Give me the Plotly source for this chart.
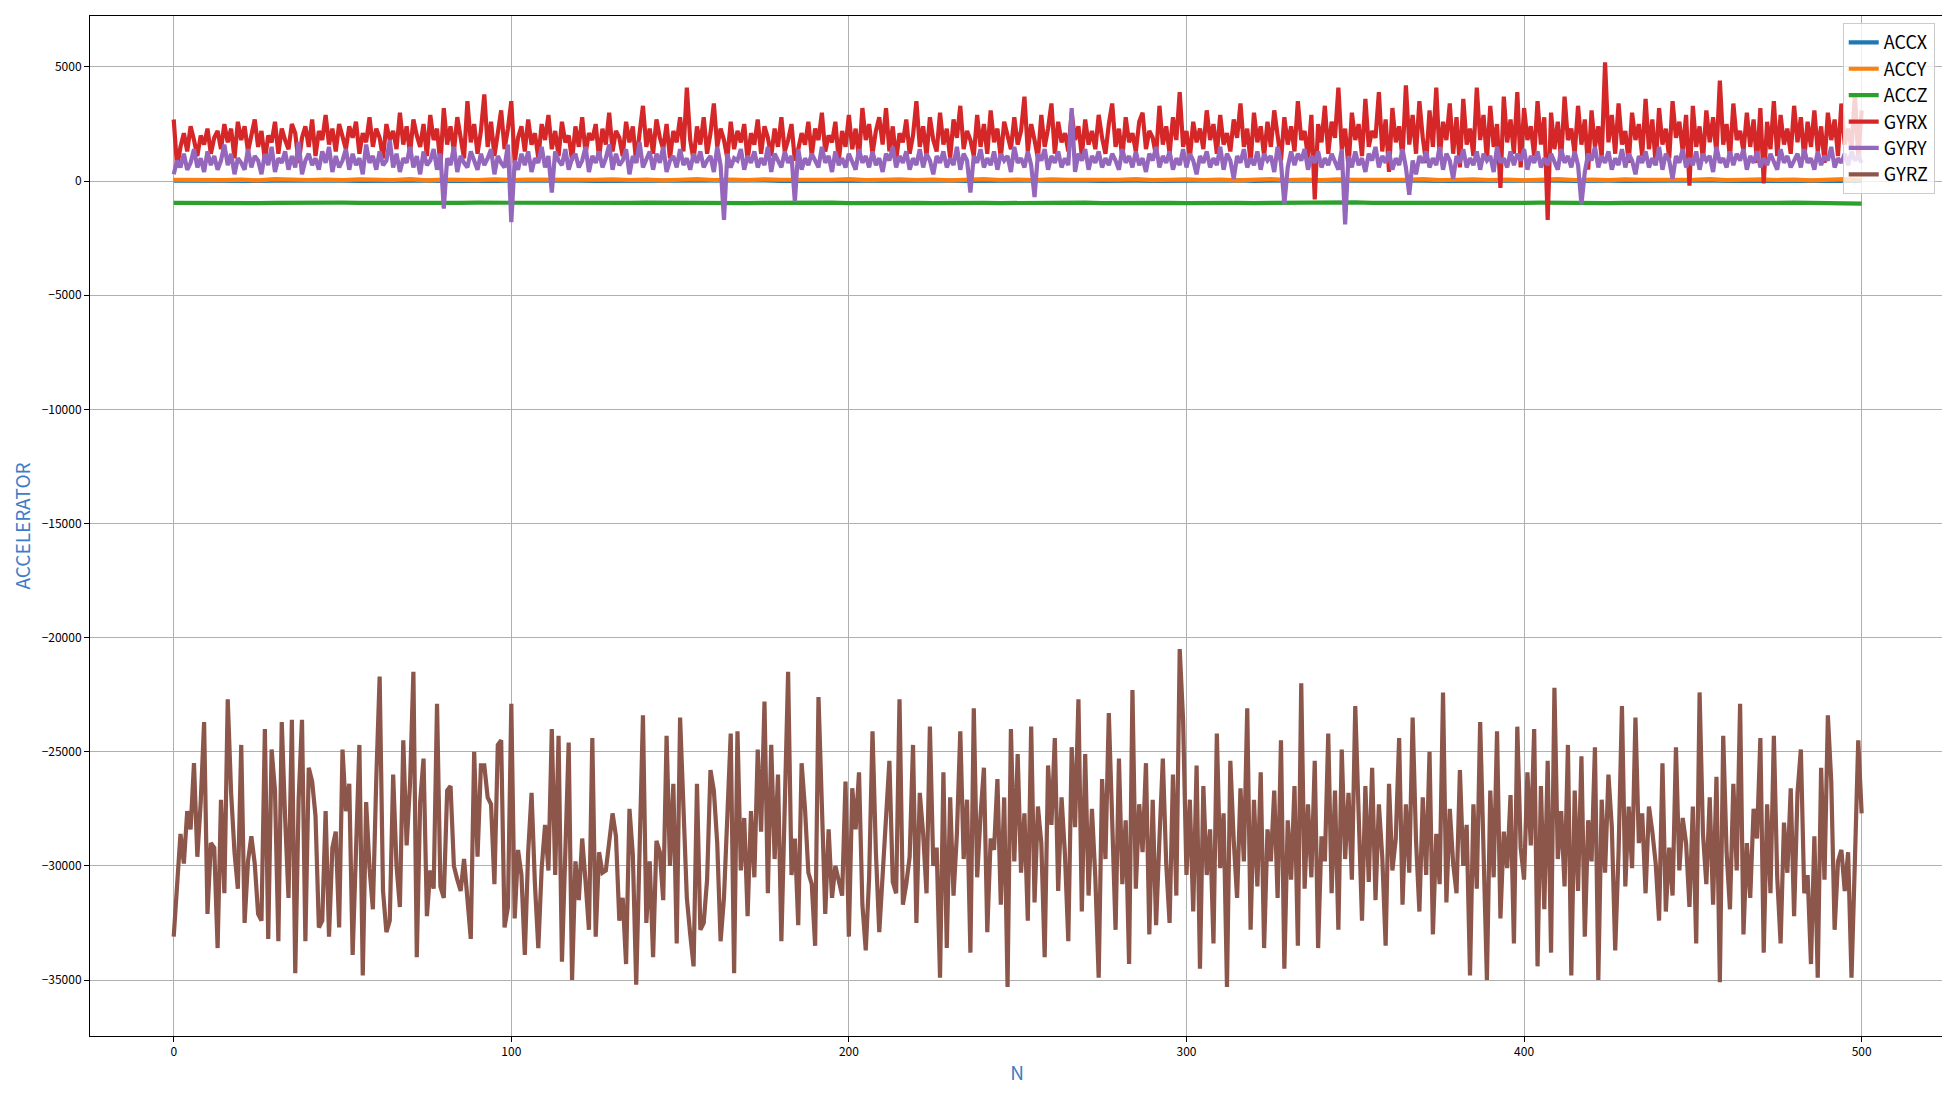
import plotly.graph_objects as go

# nearly flat accelerometer channels, sampled every 5 points
acc_n = list(range(0, 501, 5))
accx = [20, 10, 30, 15, 25, 10, 20, 30, 15, 20, 25, 10, 20, 15, 30, 20, 10, 25, 20, 15,
        20, 30, 10, 20, 25, 15, 20, 10, 30, 20, 15, 25, 20, 10, 20, 30, 15, 20, 25, 10,
        20, 15, 30, 20, 10, 25, 20, 15, 20, 30, 10, 20, 25, 15, 20, 10, 30, 20, 15, 25,
        20, 10, 20, 30, 15, 20, 25, 10, 20, 15, 30, 20, 10, 25, 20, 15, 20, 30, 10, 20,
        25, 15, 20, 10, 30, 20, 15, 25, 20, 10, 20, 30, 15, 20, 25, 10, 20, 15, 30, 20, 15]
accy = [60, 50, 80, 40, 70, 30, 90, 60, 50, 70, 40, 80, 60, 50, 90, 30, 70, 60, 40, 80,
        50, 70, 60, 90, 40, 60, 80, 50, 70, 30, 60, 90, 50, 70, 40, 80, 60, 50, 70, 60,
        90, 40, 60, 80, 50, 70, 30, 60, 90, 50, 70, 40, 80, 60, 50, 70, 60, 90, 40, 60,
        80, 50, 70, 30, 60, 90, 50, 70, 40, 80, 60, 50, 70, 60, 90, 40, 60, 80, 50, 70,
        30, 60, 90, 50, 70, 40, 80, 60, 50, 70, 60, 90, 40, 60, 80, 50, 70, 30, 60, 90, 60]
accz = [-950, -960, -940, -955, -945, -965, -950, -940, -960, -950, -945, -955, -960, -950, -940, -955, -965, -950, -945, -950,
        -960, -940, -955, -950, -945, -960, -950, -955, -940, -950, -965, -950, -945, -955, -960, -950, -940, -955, -950, -945,
        -960, -950, -955, -940, -950, -965, -950, -945, -955, -960, -950, -940, -955, -950, -945, -960, -950, -955, -940, -950,
        -965, -950, -945, -955, -960, -950, -940, -955, -950, -945, -930, -950, -955, -940, -950, -965, -950, -945, -955, -960,
        -950, -940, -955, -950, -945, -960, -950, -955, -940, -950, -965, -950, -945, -955, -960, -950, -940, -955, -950, -945, -990]

gyrx = [2700, 600, 1500, 2100, 1300, 2400, 1800, 1100, 2000, 1600, 2300, 1200, 1900, 2200, 1400, 2500, 1700, 2300, 1000, 2600,
        1800, 2400, 1300, 2100, 2700, 1500, 2200, 900, 2000, 1700, 2600, 1200, 2300, 1800, 1400, 2500, 2100, 800, 1900, 2400,
        1500, 2700, 1100, 2200, 1800, 2900, 1600, 2300, 1300, 2500, 2000, 1400, 2400, 1900, 2600, 1200, 2100, 1700, 2800, 1500,
        2300, 1900, 1000, 2500, 1800, 2200, 1400, 3000, 1600, 2400, 1200, 2700, 2000, 1500, 2500, 1100, 2900, 1800, 2300, 700,
        3200, 1600, 2400, 1300, 2800, 1900, 1000, 3500, 1700, 2500, 1200, 2200, 3800, 1500, 2600, 1100, 2000, 3100, 1400, 2300,
        3500, 800, 1900, 2400, 1300, 2700, 1600, 2100, 1000, 2500, 1800, 2900, 1400, 2200, 1100, 2600, 1700, 2000, 900, 2400,
        1500, 2800, 1200, 2100, 1800, 2500, 1000, 2300, 1600, 3000, 1300, 2200, 1900, 1100, 2600, 1700, 2400, 800, 2100, 3300,
        1500, 2300, 1200, 2700, 1900, 1400, 2500, 1000, 2200, 1700, 2800, 1300, 4100, 1800, 900, 2400, 1600, 2800, 1200, 2100,
        3400, 1500, 2300, 1800, 1000, 2600, 1400, 2200, 1700, 2500, 900, 2100, 1600, 2700, 1200, 2400, 1900, 1100, 2300, 1500,
        2800, 1300, 1800, 2500, 900, 1400, 2100, 1600, 2600, 1100, 2300, 1800, 3000, 1300, 2000, 1700, 2600, 900, 2200, 1500,
        2900, 1400, 2300, 1000, 3200, 1800, 2500, 1200, 2200, 2800, 1600, 3200, 1300, 2400, 900, 2100, 1700, 2700, 1200, 2000,
        3500, 1500, 2400, 1100, 2800, 1800, 1300, 3000, 1600, 2300, 1000, 2700, 1900, 3300, 1400, 2200, 1800, 1100, 2900, 1500,
        2500, 1200, 3100, 1700, 2300, 1000, 2600, 1900, 1400, 2800, 1600, 2200, 3700, 1300, 2500, 1800, 1000, 2900, 1500, 2300,
        3400, 1200, 2600, 1700, 2100, 1300, 3000, 1800, 2400, 1100, 2700, 1600, 2200, 1400, 2900, 1900, 1200, 2500, 3400, 1500,
        2300, 1000, 2800, 1700, 2100, 1300, 2600, 3000, 1400, 2200, 1900, 1100, 3300, 1600, 2400, 1200, 2800, 1800, 3900, 1500,
        2200, 1000, 2600, 1700, 2300, 1400, 3100, 1800, 2500, 1200, 2900, 1600, 2100, 1300, 2700, 1900, 3400, 1500, 2300, 800,
        3000, 1700, 2400, 1100, 2600, 1500, 3100, 2000, 900, 2800, 1600, 2400, 1300, 3500, 1800, 2200, 1000, 2900, -800, 2500,
        1700, 3300, 1200, 2600, 1900, 4100, 1400, 2300, 600, 3000, 1800, 2500, 1100, 3600, 1500, 2200, 1900, 3900, 1300, 2700,
        400, 3200, 1700, 2400, 1000, 4200, 1600, 2900, 1200, 3500, 1900, 800, 3100, 1500, 4100, 1000, 2600, 1800, 3400, 1200,
        2800, 600, 3600, 1600, 2300, 1100, 4100, 1800, 2900, 900, 3300, 1500, 2500, -300, 3700, 1700, 2700, 1200, 3900, 600,
        3200, 1800, 2400, 1100, 3500, 1600, 2800, -1700, 3000, 1400, 2600, 900, 3700, 1800, 2300, 1200, 3300, 1600, 2700, 500,
        3100, 1500, 2400, 1000, 5200, 1700, 2900, 1200, 3400, 1600, 2200, 800, 3000, 1800, 2500, 1100, 3600, 1400, 2700, 700,
        3200, 1600, 2300, 1000, 3500, 1900, 2600, 1300, 2900, -200, 3300, 1500, 2400, 900, 3100, 1700, 2800, 1200, 4400, 1600,
        2500, 1000, 3400, 1800, 2200, 1300, 3000, 1500, 2700, 800, 3200, -100, 2600, 1400, 3500, 1100, 2900, 1600, 2300, 1200,
        3300, 1700, 2800, 1000, 2600, 1500, 3100, 1300, 2400, 800, 3000, 1800, 2700, 1100, 3400, 1600, 2300, 1400, 3800, 1000,
        3100]

gyry = [300, 900, 600, 1200, 500, 800, 1400, 600, 1000, 400, 1300, 700, 1100, 500, 900, 1600, 700, 1200, 300, 1000,
        800, 500, 1400, 600, 1100, 900, 300, 1200, 700, 1500, 400, 1000, 800, 1300, 500, 1100, 600, 1700, 300, 900,
        1200, 700, 1000, 500, 1300, 800, 1500, 400, 1100, 600, 900, 1400, 500, 1200, 700, 1000, 300, 1600, 800, 1100,
        500, 1300, 700, 900, 1800, 600, 1200, 400, 1000, 800, 1500, 600, 1100, 300, 1300, 700, 900, 1400, 500, 1200,
        -1200, 1000, 700, 1500, 400, 1100, 800, 600, 1300, 900, 500, 1200, 700, 1000, 1400, 300, 1100, 800, 600, 1600,
        -1800, 900, 500, 1200, 700, 1300, 400, 1000, 800, 1500, 600, 1100, -500, 1300, 900, 700, 1400, 500, 1000, 1200,
        600, 900, 1500, 400, 1100, 800, 1300, 600, 1000, 1600, 500, 1200, 700, 900, 1400, 300, 1100, 800, 1700, 600,
        1000, 1300, 500, 1200, 800, 1500, 400, 900, 1100, 600, 1400, 700, 1000, 500, 1200, 800, 1300, 600, 900, 1100,
        400, 1500, 700, -1700, 1200, 600, 1000, 900, 1400, 500, 1100, 800, 1300, 600, 1000, 700, 1500, 400, 1200, 900,
        600, 1300, 800, 1100, -900, 1400, 500, 1000, 700, 1200, 900, 600, 1500, 800, 1100, 400, 1300, 700, 1000, 600,
        1200, 900, 500, 1400, 800, 1100, 600, 1300, 700, 1000, 400, 1200, 900, 1500, 600, 1100, 800, 1300, 500, 1000,
        700, 1400, 600, 1200, 900, 300, 1100, 800, 1300, 600, 1000, 700, 1500, 500, 1200, 900, -500, 1100, 800, 1400,
        600, 1000, 700, 1300, 500, 1200, 900, 1100, 400, 1500, 800, 1000, 600, 1300, 700, -700, 1200, 900, 1400, 500,
        1100, 800, 1300, 600, 1000, 700, 3200, 400, 1200, 900, 1400, 500, 1100, 800, 1300, 600, 1000, 700, 1200, 900,
        500, 1400, 800, 1100, 600, 1300, 700, 1000, 400, 1200, 900, 1500, 600, 1100, 800, 1300, 500, 1000, 700, 1400,
        600, 1200, 900, 300, 1100, 800, 1300, 600, 1000, 700, 1500, 500, 1200, 900, 100, 1100, 800, 1400, 600, 1000,
        700, 1300, 500, 1200, 900, 1100, 400, 1500, 800, -1000, 600, 1300, 700, 1200, 900, 1400, 500, 1100, 800, 1300,
        600, 1000, 700, 1200, 900, 500, 1400, -1900, 1100, 600, 1300, 700, 1000, 400, 1200, 900, 1500, 600, 1100, 800,
        1300, 500, 1000, 700, 1400, 600, -600, 900, 300, 1100, 800, 1300, 600, 1000, 700, 1500, 500, 1200, 900, 100,
        1100, 800, 1400, 600, 1000, 700, 1300, 500, 1200, 900, 1100, 400, 1500, 800, 1000, 600, 1300, 700, 1200, 900,
        1400, 500, 1100, 800, 1300, 600, 1000, 700, 1200, 900, 500, 1400, 800, 1100, 600, 1300, 700, -1000, 400, 1200,
        900, 1500, 600, 1100, 800, 1300, 500, 1000, 700, 1400, 600, 1200, 900, 300, 1100, 800, 1300, 600, 1000, 700,
        1500, 500, 1200, 900, 100, 1100, 800, 1400, 600, 1000, 700, 1300, 500, 1200, 900, 1100, 400, 1500, 800, 1000,
        600, 1300, 700, 1200, 900, 1400, 500, 1100, 800, 1300, 600, 1000, 700, 1200, 900, 500, 1400, 800, 1100, 600,
        900, 1200, 600, 1400, 800, 1000, 500, 1300, 700, 1100, 900, 1500, 600, 1000, 800, 1200, 700, 1300, 900, 1100,
        800]

gyrz = [-33100, -30500, -28600, -29900, -27600, -28400, -25500, -29600, -27200, -23700, -32100, -29000, -29200, -33600, -27100, -31200, -22700, -26800, -29400, -31000,
        -24700, -32500, -29800, -28700, -29900, -32100, -32400, -24000, -33200, -24900, -26700, -33300, -23700, -27900, -31400, -23600, -34700, -27100, -23600, -33300,
        -25700, -26300, -27800, -32700, -32400, -27600, -33100, -29200, -28500, -32700, -24900, -27600, -26400, -33900, -29800, -24700, -34800, -27200, -30100, -31900,
        -26200, -21700, -31100, -32900, -32400, -26000, -30000, -31800, -24500, -29100, -26400, -21500, -34000, -27200, -25300, -32200, -30200, -31000, -22900, -30900,
        -31400, -26700, -26500, -30000, -30600, -31100, -29700, -31500, -33200, -25000, -29600, -25600, -25600, -27000, -27300, -30800, -24700, -24500, -32700, -31800,
        -22900, -32300, -29300, -30400, -33900, -29400, -26800, -30800, -33600, -30100, -28200, -30200, -24000, -30400, -24300, -34200, -29500, -24600, -35000, -29800,
        -31500, -28800, -30700, -32800, -24400, -33100, -29400, -30300, -30200, -29000, -27700, -28700, -32400, -31400, -34300, -27500, -29500, -35200, -28800, -23400,
        -32500, -29800, -34000, -28900, -29400, -31500, -24300, -30000, -26400, -33400, -23500, -27300, -31400, -33000, -34400, -26400, -32800, -32500, -30600, -25800,
        -26700, -29000, -33300, -31400, -27500, -24200, -34700, -24100, -30200, -27900, -32200, -27600, -30500, -24900, -28500, -22800, -31200, -24700, -29700, -26000,
        -33300, -27300, -21500, -30400, -28800, -32600, -25500, -27500, -30300, -30800, -33500, -22600, -27100, -32100, -28400, -31400, -30000, -30600, -31300, -26300,
        -33100, -26600, -28400, -25900, -31700, -33700, -30500, -24100, -29400, -32900, -30600, -28400, -25400, -30700, -31200, -22700, -31700, -30800, -29600, -24700,
        -32500, -26800, -28600, -31200, -23900, -30000, -29200, -34900, -25900, -33600, -27000, -31300, -28600, -24100, -29700, -27100, -33800, -23100, -30500, -27800,
        -25700, -32900, -28800, -29300, -26200, -31700, -27000, -35300, -24000, -29800, -25100, -30300, -27700, -32400, -23900, -31600, -27400, -29000, -34000, -25600,
        -28200, -24400, -31100, -27000, -29500, -33300, -24800, -28300, -22700, -32000, -25100, -31300, -27500, -30500, -34900, -26200, -29700, -23300, -28100, -32800,
        -25300, -30800, -28000, -34300, -22300, -31000, -27300, -29400, -25500, -33000, -27100, -32600, -28800, -25300, -29900, -32500, -26000, -31300, -20500, -23600,
        -30400, -27100, -32000, -25600, -34500, -26500, -30400, -28400, -33400, -24200, -30100, -27700, -35300, -25400, -28900, -31400, -26600, -29800, -23100, -32800,
        -27100, -30900, -25900, -33600, -28400, -29800, -26700, -31400, -24500, -34500, -28000, -30600, -26500, -33500, -22000, -31000, -27300, -30500, -25400, -33600,
        -28700, -29800, -24200, -31200, -26700, -32800, -24900, -29700, -26800, -30600, -23000, -28000, -32400, -26500, -30700, -25700, -31500, -27300, -29600, -33500,
        -26400, -30200, -28800, -24400, -31700, -27300, -30300, -23500, -28900, -32000, -27000, -30400, -25000, -33000, -28600, -30800, -22400, -31600, -27500, -29900,
        -31200, -25800, -30000, -28200, -34800, -27300, -31000, -23700, -29400, -35000, -26700, -30500, -24100, -32300, -28500, -30100, -26900, -33400, -23900, -29200,
        -30600, -25900, -29100, -24000, -34400, -26500, -31900, -25400, -33800, -22200, -29700, -27600, -30900, -24700, -34800, -26700, -31100, -25200, -33100, -28000,
        -29800, -24800, -35000, -27100, -30300, -26000, -28300, -33700, -29400, -23000, -30900, -27400, -30100, -23500, -29000, -27700, -31200, -27400, -28500, -29900,
        -32400, -25500, -32000, -29200, -31300, -24800, -30200, -27900, -29000, -31800, -27400, -33400, -22400, -28600, -30800, -27000, -31700, -26100, -35100, -24300,
        -29400, -31900, -26400, -30200, -22900, -33000, -29000, -31400, -27500, -28800, -24400, -33800, -27300, -31200, -24300, -30500, -33400, -28100, -30300, -26600,
        -32200, -26800, -24900, -31200, -30400, -34300, -28700, -34900, -25700, -30600, -23400, -26300, -32800, -29800, -29300, -31100, -29400, -34900, -29800, -24500,
        -27700]

series = [("ACCX", acc_n, accx, "#1f77b4"), ("ACCY", acc_n, accy, "#ff7f0e"),
          ("ACCZ", acc_n, accz, "#2ca02c"), ("GYRX", None, gyrx, "#d62728"),
          ("GYRY", None, gyry, "#9467bd"), ("GYRZ", None, gyrz, "#8c564b")]

fig = go.Figure()
for name, xs, ys, col in series:
    if xs is None:
        xs = list(range(len(ys)))
    fig.add_trace(go.Scatter(x=xs, y=ys, mode="lines", name=name,
                             line=dict(color=col, width=4.2)))

axis = dict(showgrid=True, gridcolor="#b0b0b0", gridwidth=1, zeroline=False,
            showline=True, linecolor="black", mirror=True, ticks="outside",
            ticklen=5, tickcolor="black", tickfont=dict(size=12, color="black"))

fig.update_layout(
    width=1950, height=1096,
    plot_bgcolor="white", paper_bgcolor="white",
    font=dict(family="Noto Sans CJK SC, DejaVu Sans"),
    margin=dict(l=82, r=14, t=8, b=68),
    xaxis=dict(axis, range=[-24.8, 524.4], tickvals=[0, 100, 200, 300, 400, 500],
               title=dict(text="N", font=dict(size=19, color="#3d7cc9"), standoff=8)),
    yaxis=dict(axis, range=[-37452, 7234],
               tickvals=[5000, 0, -5000, -10000, -15000, -20000, -25000, -30000, -35000],
               ticktext=["5000", "0", "\u22125000", "\u221210000", "\u221215000", "\u221220000",
                         "\u221225000", "\u221230000", "\u221235000"],
               title=dict(text="ACCELERATOR", font=dict(size=19, color="#3d7cc9"), standoff=12)),
    legend=dict(x=0.995, y=0.993, xanchor="right", yanchor="top",
                bgcolor="rgba(255,255,255,0.8)", bordercolor="#cccccc", borderwidth=1,
                font=dict(size=18, color="black"), tracegroupgap=0),
    showlegend=True,
)

fig.write_html("out.html")
